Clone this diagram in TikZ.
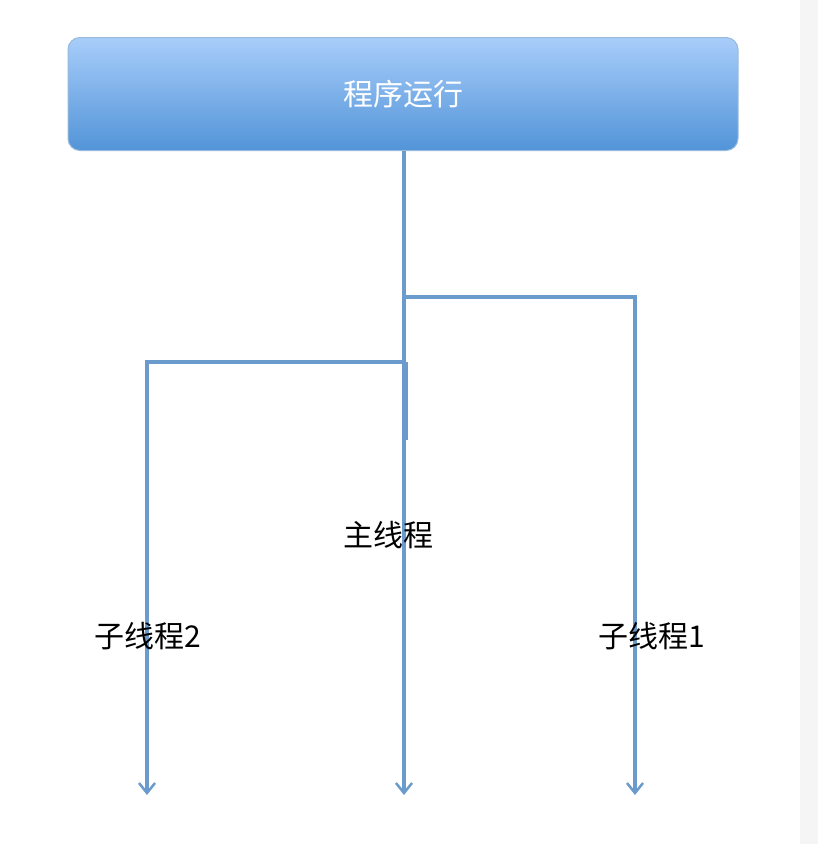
\documentclass[tikz,border=0pt]{standalone}
\usepackage{fontspec}
\newfontfamily\cjk{Noto Sans CJK SC}
\usetikzlibrary{arrows.meta}
\definecolor{ln}{HTML}{6A9BCC}
\definecolor{topc}{HTML}{A8CDFA}
\definecolor{botc}{HTML}{5294D8}
\begin{document}
\begin{tikzpicture}[x=1pt,y=-1pt,
  wire/.style={draw=ln,line width=3.5pt},
  arr/.style={wire,-{Straight Barb[length=10pt,width=16pt,line width=2.5pt]}},
  lbl/.style={font=\cjk\fontsize{30}{34}\selectfont,text=black}]
\useasboundingbox (0,0) rectangle (818,844);
\fill[gray!8] (800,0) rectangle (818,844);
\node (box) [draw=ln!70,line width=1pt,rounded corners=12pt,top color=topc,bottom color=botc,
  minimum width=670pt,minimum height=113pt,font=\cjk\fontsize{30}{34}\selectfont,text=white]
  at (403,94) {程序运行};
\coordinate (j1) at (404,297);
\coordinate (j2) at (404,362);
\coordinate (r) at (635,297);
\coordinate (l) at (147,362);
\coordinate (e1) at (404,795);
\coordinate (e2) at (147,795);
\coordinate (e3) at (635,795);
\draw[arr] (box.south -| j1) -- (e1);
\draw[arr] (j1) -- (r) -- (e3);
\draw[arr] (j2) -- (l) -- (e2);
\draw[wire] (406,362) -- (406,440);
\node[lbl] (m) at (388,535) {主线程};
\node[lbl] (s2) at (148,636) {子线程2};
\node[lbl] (s1) at (652,636) {子线程1};
\end{tikzpicture}
\end{document}
